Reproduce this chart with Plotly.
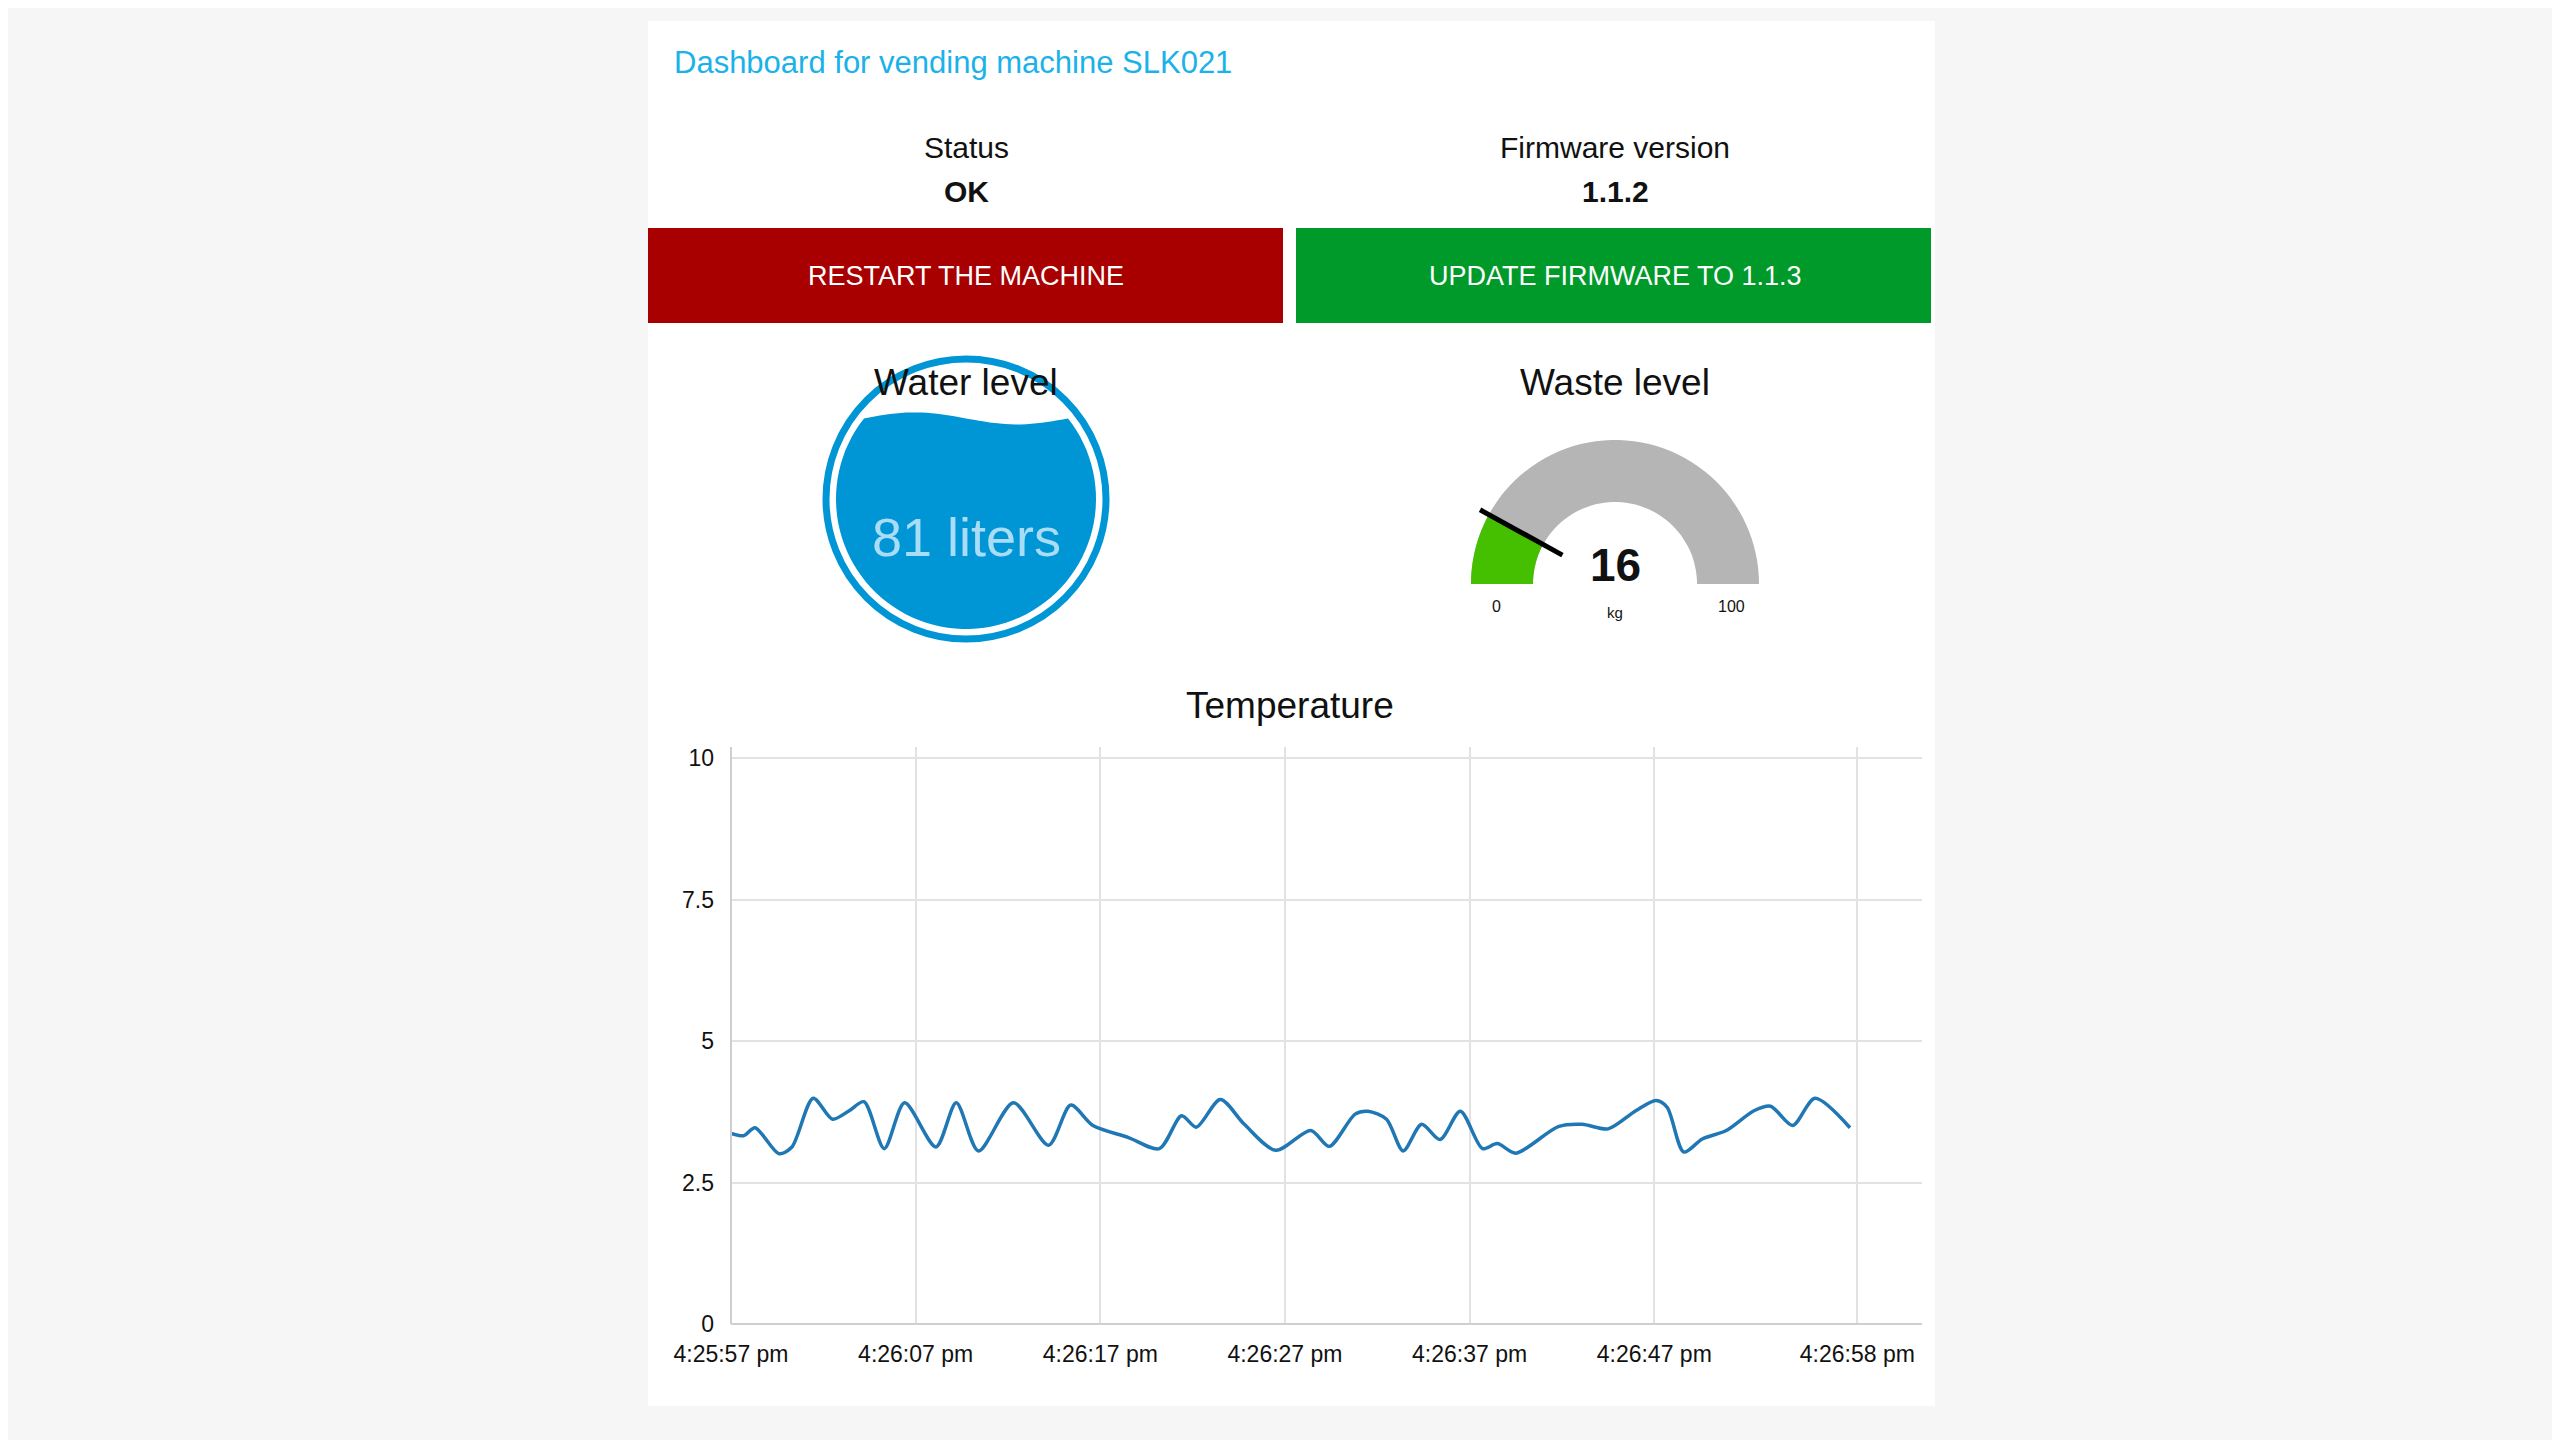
import numpy as np
import plotly.graph_objects as go

# dashboard values
title_text = "Dashboard for vending machine SLK021"
status = "OK"
firmware = "1.1.2"
firmware_next = "1.1.3"
water_liters = 81
waste_kg = 16
waste_max = 100

# temperature series: seconds after 4:25:57 pm, degrees
temp_t = [0, 0.7, 1.3, 2.6, 3.3, 4.45, 5.5, 6.4, 7.2, 8.3, 9.4, 11.1, 12.2, 13.4, 15.3, 17.2,
          18.4, 19.6, 21.5, 23.2, 24.4, 25.2, 26.5, 27.8, 29.5, 31.4, 32.4, 33.8, 34.5, 35.5,
          36.4, 37.4, 38.4, 39.5, 40.7, 41.5, 42.5, 44.8, 46.1, 47.5, 49.0, 50.1, 50.7, 51.6,
          52.6, 53.9, 55.4, 56.3, 57.5, 58.7, 60.6]
temp_v = [3.37, 3.33, 3.47, 3.01, 3.13, 3.99, 3.62, 3.77, 3.93, 3.10, 3.91, 3.13, 3.91, 3.06,
          3.91, 3.16, 3.87, 3.51, 3.30, 3.10, 3.68, 3.48, 3.97, 3.53, 3.07, 3.42, 3.14, 3.71,
          3.76, 3.62, 3.06, 3.53, 3.26, 3.76, 3.10, 3.19, 3.02, 3.49, 3.53, 3.45, 3.77, 3.95,
          3.83, 3.04, 3.27, 3.42, 3.77, 3.85, 3.51, 3.99, 3.47]
tick_secs = [0, 10, 20, 30, 40, 50, 61]
tick_labels = ["4:25:57 pm", "4:26:07 pm", "4:26:17 pm", "4:26:27 pm", "4:26:37 pm",
               "4:26:47 pm", "4:26:58 pm"]
y_ticks = [0, 2.5, 5, 7.5, 10]

W, H = 2560, 1440
FONT = "Liberation Sans, Arial, sans-serif"

fig = go.Figure()

# temperature line
fig.add_trace(go.Scatter(x=temp_t, y=temp_v, mode="lines", xaxis="x2", yaxis="y2",
                         line=dict(color="#1f77b4", width=3.5, shape="spline", smoothing=0.8),
                         hoverinfo="skip", showlegend=False))

shapes = []
ann = []

def text(x, y, s, size, color="#111", bold=False, xanchor="center"):
    ann.append(dict(x=x, y=y, xref="x", yref="y", text=f"<b>{s}</b>" if bold else s,
                    showarrow=False, xanchor=xanchor, yanchor="middle",
                    font=dict(size=size, color=color, family=FONT)))

def poly(xs, ys):
    return "M " + " L ".join(f"{a:.1f},{b:.1f}" for a, b in zip(xs, ys)) + " Z"

# card + buttons
shapes.append(dict(type="rect", xref="x", yref="y", x0=640, x1=1927, y0=13, y1=1398,
                   fillcolor="white", line_width=0, layer="below"))
shapes.append(dict(type="rect", xref="x", yref="y", x0=640, x1=1275, y0=220, y1=315,
                   fillcolor="#a80000", line_width=0, layer="below"))
shapes.append(dict(type="rect", xref="x", yref="y", x0=1288, x1=1923, y0=220, y1=315,
                   fillcolor="#009a2a", line_width=0, layer="below"))

text(664, 54, title_text, 31, color="#1ab2e8", xanchor="left")
text(958, 139, "Status", 30)
text(958, 183, status, 30, bold=True)
text(1607, 139, "Firmware version", 30)
text(1607, 183, firmware, 30, bold=True)
text(958, 268, "RESTART THE MACHINE", 27, color="white")
text(1607, 268, f"UPDATE FIRMWARE TO {firmware_next}", 27, color="white")

# water level
cx, cy, R, r = 958, 491, 140, 130
shapes.append(dict(type="circle", xref="x", yref="y", x0=cx - R, x1=cx + R, y0=cy - R, y1=cy + R,
                   line=dict(color="#0096d6", width=7), fillcolor="white"))
top = cy + r * (1 - 2 * water_liters / 100)
dx = np.sqrt(r ** 2 - (top - cy) ** 2)
wx = np.linspace(cx - dx, cx + dx, 40)
wy = top - 6 * np.sin((wx - (cx - dx)) / (2 * dx) * 2 * np.pi)
a0 = np.arctan2(top - cy, -dx)
a1 = np.arctan2(top - cy, dx)
ang = np.linspace(a1, a0 + 2 * np.pi if a0 < a1 else a0, 80)
ax = cx + r * np.cos(ang)
ay = cy + r * np.sin(ang)
shapes.append(dict(type="path", xref="x", yref="y",
                   path=poly(list(wx) + list(ax), list(wy) + list(ay)),
                   fillcolor="#0096d6", line_width=0))
text(958, 529, f"{water_liters} liters", 54, color="#a9dcf5")
text(958, 374, "Water level", 37)

# waste gauge
gx, gy, GR, gr = 1607, 576, 144, 82
def arc(v0, v1):
    t = np.linspace(np.pi * (1 - v0 / waste_max), np.pi * (1 - v1 / waste_max), 60)
    xs = list(gx + GR * np.cos(t)) + list(gx + gr * np.cos(t[::-1]))
    ys = list(gy - GR * np.sin(t)) + list(gy - gr * np.sin(t[::-1]))
    return poly(xs, ys)
shapes.append(dict(type="path", xref="x", yref="y", path=arc(0, waste_max),
                   fillcolor="#b5b5b5", line_width=0))
shapes.append(dict(type="path", xref="x", yref="y", path=arc(0, waste_kg),
                   fillcolor="#44c000", line_width=0))
th = np.pi * (1 - waste_kg / waste_max)
shapes.append(dict(type="line", xref="x", yref="y",
                   x0=gx + (GR + 10) * np.cos(th), y0=gy - (GR + 10) * np.sin(th),
                   x1=gx + 60 * np.cos(th), y1=gy - 60 * np.sin(th),
                   line=dict(color="black", width=5)))
text(1607, 374, "Waste level", 37)
text(1607, 557, str(waste_kg), 46, bold=True)
text(1607, 604, "kg", 15)
text(1488, 598, "0", 16)
text(1723, 598, str(waste_max), 16)

text(1282, 697, "Temperature", 37)

fig.update_layout(
    width=W, height=H, margin=dict(l=0, r=0, t=0, b=0, pad=0, autoexpand=False),
    paper_bgcolor="#f6f6f6", plot_bgcolor="rgba(0,0,0,0)",
    xaxis=dict(range=[0, W], domain=[0, 1], visible=False, fixedrange=True, automargin=False),
    yaxis=dict(range=[H, 0], domain=[0, 1], visible=False, fixedrange=True, automargin=False),
    xaxis2=dict(domain=[723 / W, 1914 / W], anchor="y2", range=[0, 64.5], automargin=False,
                tickvals=tick_secs, ticktext=tick_labels, showgrid=True, gridcolor="#e2e2e2",
                gridwidth=1.5, ticks="", zeroline=False, showline=False, ticklabelstandoff=14,
                tickfont=dict(size=23, color="#111", family=FONT)),
    yaxis2=dict(domain=[1 - 1316 / H, 1 - 739 / H], anchor="x2", range=[0, 10.2], automargin=False,
                tickvals=y_ticks, ticktext=["0", "2.5", "5", "7.5", "10"], showgrid=True,
                gridcolor="#e2e2e2", gridwidth=1.5, zeroline=True, zerolinecolor="#cfcfcf",
                zerolinewidth=2, ticks="", ticklabelstandoff=16,
                tickfont=dict(size=23, color="#111", family=FONT)),
    shapes=shapes, annotations=ann,
)
fig.add_shape(type="line", xref="x", yref="y", x0=723, x1=723, y0=739, y1=1316,
              line=dict(color="#cfcfcf", width=2))

fig.write_html("out.html")
